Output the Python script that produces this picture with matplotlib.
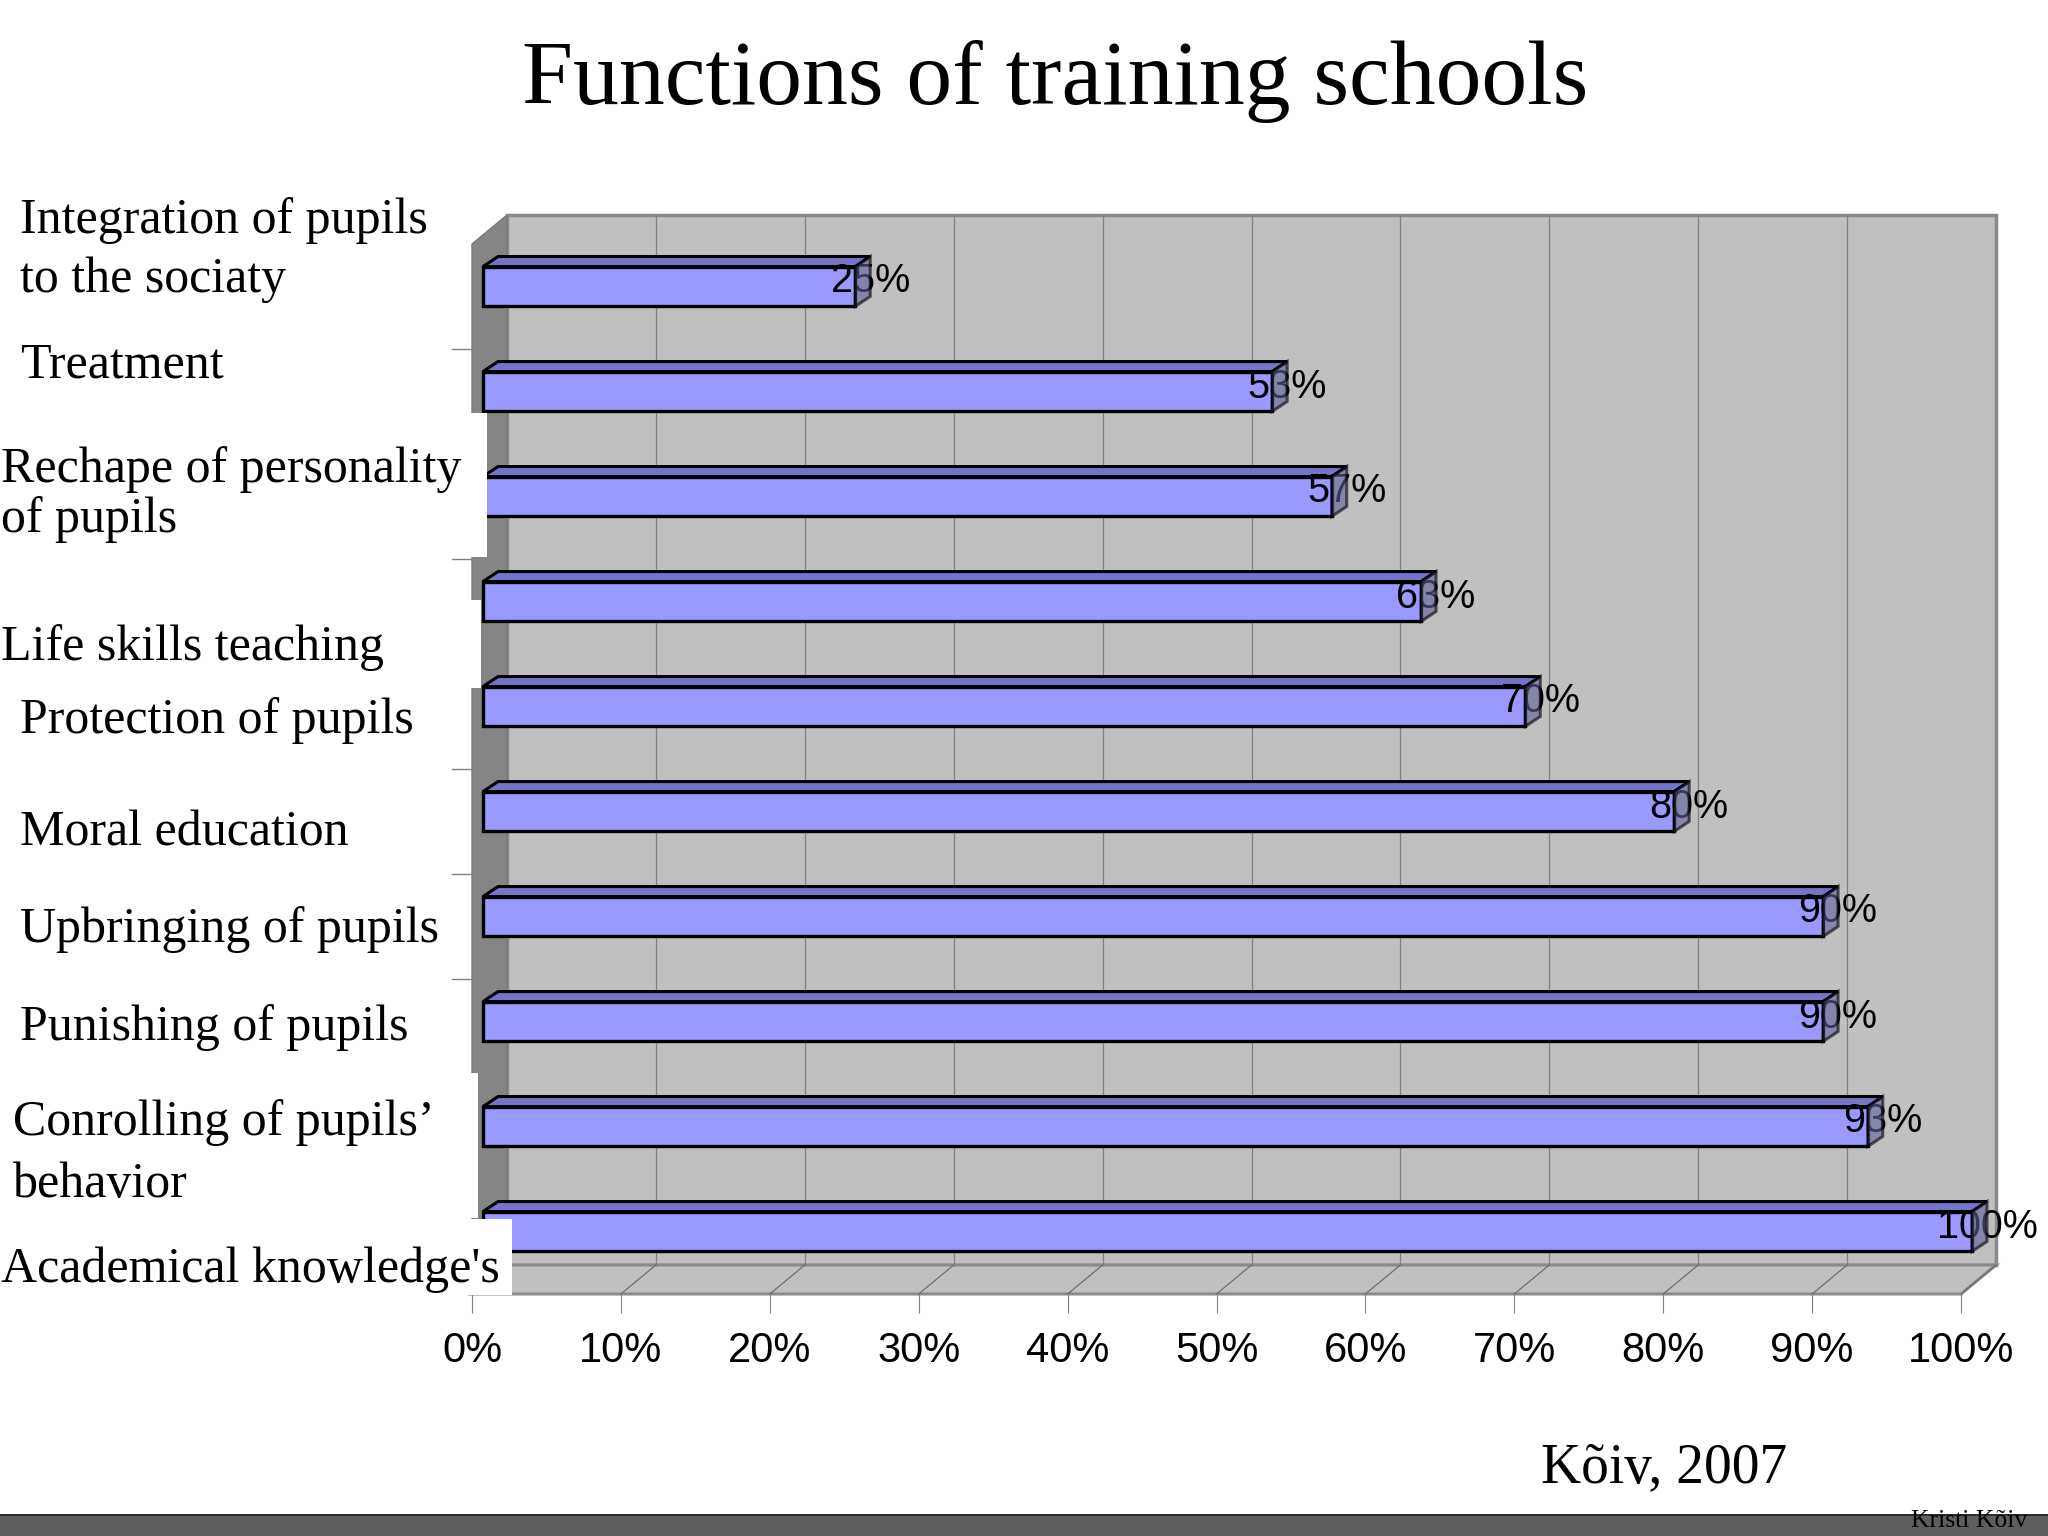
import matplotlib
matplotlib.use("Agg")
import matplotlib.pyplot as plt
from matplotlib.patches import Polygon, Rectangle
from matplotlib.transforms import ScaledTranslation
import numpy as np

# ---------------- data ----------------
title = "Functions of training schools"
category_lines = [
    ["Integration of pupils", "to the sociaty"],
    ["Treatment"],
    ["Rechape of personality", "of pupils"],
    ["Life skills teaching"],
    ["Protection of pupils"],
    ["Moral education"],
    ["Upbringing of pupils"],
    ["Punishing of pupils"],
    ["Conrolling of pupils\u2019", "behavior"],
    ["Academical knowledge's"],
]
values = [25, 53, 57, 63, 70, 80, 90, 90, 93, 100]
value_labels = ["25%", "53%", "57%", "63%", "70%", "80%", "90%", "90%", "93%", "100%"]
xticks = [0, 10, 20, 30, 40, 50, 60, 70, 80, 90, 100]
xtick_labels = ["0%", "10%", "20%", "30%", "40%", "50%", "60%", "70%", "80%", "90%", "100%"]
source_text = "K\u00f5iv, 2007"
author_text = "Kristi K\u00f5iv"

# ---------------- layout (pixels in a 2048x1536 canvas) ----------------
W, H = 2048, 1536
DPI = 100
label_pos = [[(20, 233), (20, 292)], [(20, 377)], [(1, 482), (1, 532)],
             [(1, 660)], [(20, 733)], [(20, 845)], [(20, 942)], [(20, 1040)],
             [(13, 1135), (13, 1197)], [(1, 1282)]]
white_boxes = [(0, 413, 487, 557), (0, 600, 481, 688), (0, 1073, 478, 1218), (0, 1219, 512, 1295)]

FRONT = (-11, -10)   # display-pixel offset of floor front / wall front from bar plane
BACK = (24, 19)      # display-pixel offset of back wall from bar plane
BD = (15, 10)        # bar depth in display pixels

C_FRONT = "#9999FF"
C_TOP = "#7474C8"
C_SIDE = "#5E5E9C"
C_WALL = "#C0C0C0"
C_LWALL = "#858585"
C_GRID = "#808080"

plt.rcParams["font.family"] = ["Liberation Serif", "DejaVu Serif"]

fig = plt.figure(figsize=(W / DPI, H / DPI), dpi=DPI)
fig.patch.set_facecolor("white")

ax = fig.add_axes([483 / W, 1 - 1284 / H, 1489 / W, 1050 / H])
ax.set_xlim(0, 100)
ax.set_ylim(len(values) - 0.5, -0.5)
ax.axis("off")


def shift(x, y, off):
    p = ax.transData.transform((x, y)) + np.array(off, dtype=float)
    return ax.transData.inverted().transform(p)


ytop, ybot = -0.5, len(values) - 0.5

# back wall
back_t = ax.transData + ScaledTranslation(BACK[0] / DPI, BACK[1] / DPI, fig.dpi_scale_trans)
ax.add_patch(Rectangle((0, ytop), 100, ybot - ytop, transform=back_t, facecolor=C_WALL,
                       edgecolor="#8A8A8A", linewidth=2.5, zorder=0.5, clip_on=False))
for x in xticks[1:-1]:
    ax.plot([x, x], [ytop, ybot], transform=back_t, color=C_GRID, lw=0.9, zorder=0.6,
            clip_on=False)

# floor
floor = [shift(0, ybot, FRONT), shift(100, ybot, FRONT), shift(100, ybot, BACK), shift(0, ybot, BACK)]
ax.add_patch(Polygon(floor, closed=True, facecolor=C_WALL, edgecolor="#8A8A8A",
                     linewidth=2.2, zorder=0.55, clip_on=False))
for x in xticks:
    a, b = shift(x, ybot, FRONT), shift(x, ybot, BACK)
    ax.plot([a[0], b[0]], [a[1], b[1]], color="#6E6E6E", lw=0.9, zorder=0.6, clip_on=False)

# left wall
lwall = [shift(0, ytop, FRONT), shift(0, ytop, BACK), shift(0, ybot, BACK), shift(0, ybot, FRONT)]
ax.add_patch(Polygon(lwall, closed=True, facecolor=C_LWALL, edgecolor="#7A7A7A",
                     linewidth=1.0, zorder=0.7, clip_on=False))

# category boundary ticks on the left
for i in range(len(values) - 1):
    b = i + 0.5
    a = shift(0, b, FRONT)
    c = shift(0, b, (FRONT[0] - 20, FRONT[1]))
    ax.plot([a[0], c[0]], [a[1], c[1]], color=C_GRID, lw=1.0, zorder=0.7, clip_on=False)

# bars
ypos = np.arange(len(values))
bh = 0.38
ax.barh(ypos, values, height=bh, left=0, color=C_FRONT, edgecolor="black",
        linewidth=2.4, zorder=3, clip_on=False)
for yi, v, lab in zip(ypos, values, value_labels):
    t = yi - bh / 2
    b = yi + bh / 2
    top = [(0, t), (v, t), shift(v, t, BD), shift(0, t, BD)]
    ax.add_patch(Polygon(top, closed=True, facecolor=C_TOP, edgecolor="black",
                         linewidth=2.2, zorder=3, clip_on=False, joinstyle="miter"))
    ax.annotate(lab, xy=(v, yi), xytext=(15 * 72 / DPI, 5 * 72 / DPI),
                textcoords="offset points", ha="center", va="center",
                fontsize=28.5, family=["Liberation Sans", "DejaVu Sans"], zorder=4)
    side = [(v, t), (v, b), shift(v, b, BD), shift(v, t, BD)]
    ax.add_patch(Polygon(side, closed=True, facecolor=C_SIDE, edgecolor="black",
                         linewidth=2.2, zorder=5, clip_on=False, alpha=0.6))

# front x axis (ticks and labels on the floor front edge)
axf = fig.add_axes([472 / W, 1 - 1294 / H, 1489 / W, 1 / H])
axf.set_xlim(0, 100)
axf.set_xticks(xticks)
axf.set_xticklabels(xtick_labels, family=["Liberation Sans", "DejaVu Sans"], fontsize=30)
axf.set_yticks([])
for s in axf.spines.values():
    s.set_visible(False)
axf.patch.set_visible(False)
axf.tick_params(axis="x", length=13.5, width=0.8, color=C_GRID, pad=13)

# white label boxes
for x0, y0, x1, y1 in white_boxes:
    fig.add_artist(Rectangle((x0 / W, 1 - y1 / H), (x1 - x0) / W, (y1 - y0) / H,
                             transform=fig.transFigure, facecolor="white",
                             edgecolor="none", zorder=1))

# category labels
for lines, poss in zip(category_lines, label_pos):
    for s, (px, py) in zip(lines, poss):
        fig.text(px / W, 1 - py / H, s, ha="left", va="baseline", fontsize=36, zorder=3)

# title
fig.text(1055 / W, 1 - 104 / H, title, ha="center", va="baseline", fontsize=66)

# source and author
fig.text(1541 / W, 1 - 1482 / H, source_text, ha="left", va="baseline", fontsize=40)
fig.add_artist(Rectangle((0, 0), 1, 21 / H, transform=fig.transFigure,
                         facecolor="#5E5E5E", edgecolor="none", zorder=1))
fig.add_artist(Rectangle((0, 20 / H), 1, 2 / H, transform=fig.transFigure,
                         facecolor="#2E2E2E", edgecolor="none", zorder=1))
fig.text(1911 / W, 1 - 1527 / H, author_text, ha="left", va="baseline", fontsize=18.5, zorder=3)

fig.savefig("out.png", dpi=DPI)
